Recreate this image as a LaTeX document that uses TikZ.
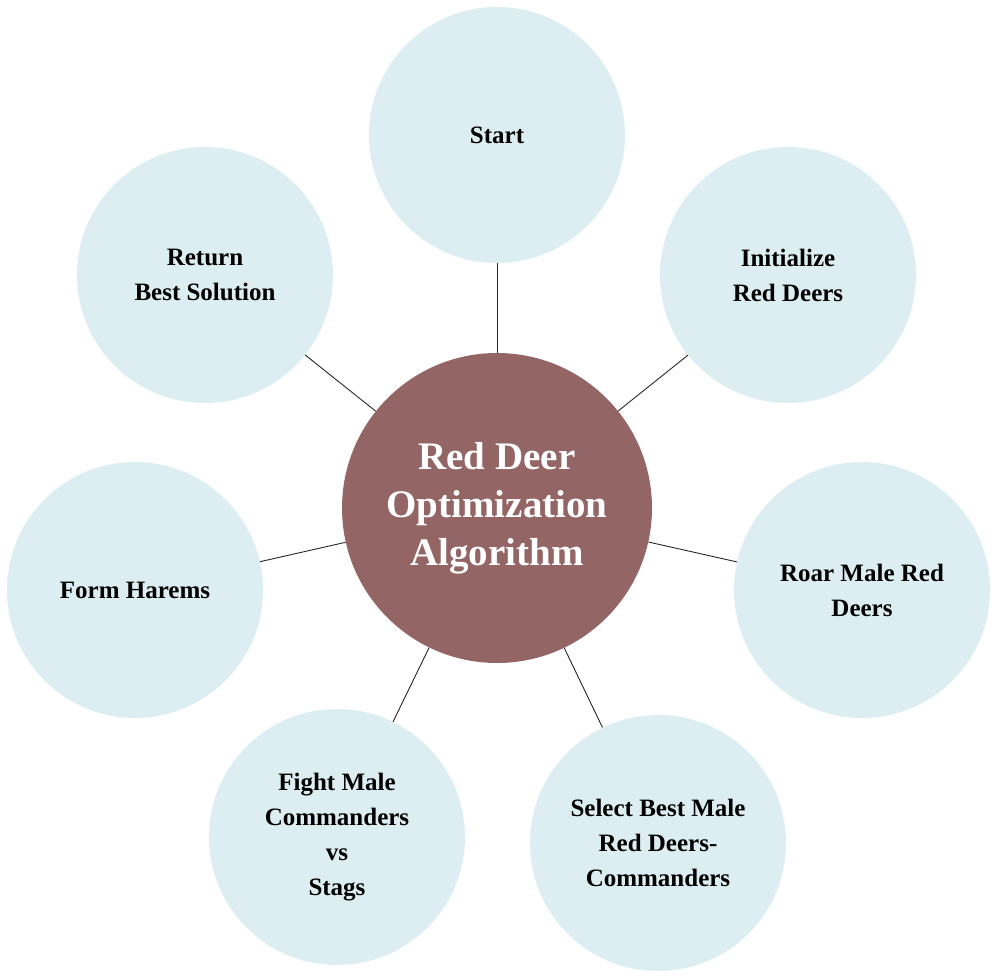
\documentclass[tikz,border=0pt]{standalone}
\usepackage{fontspec}
\setmainfont{Liberation Serif}
\definecolor{outerc}{HTML}{DCEEF1}
\definecolor{innerc}{HTML}{946565}
\begin{document}
\begin{tikzpicture}[x=1pt,y=-1pt,
  outer/.style={circle,fill=outerc,minimum size=256pt,inner sep=0pt,align=center,font=\fontsize{25}{35}\selectfont\bfseries},
  inner/.style={circle,fill=innerc,minimum size=310pt,inner sep=0pt,align=center,text=white,font=\fontsize{39}{48}\selectfont\bfseries},
  link/.style={draw=black!85,line width=0.9pt}]
\useasboundingbox (0,0) rectangle (995,976);
\node[inner] (c) at (497,508) {Red Deer\\Optimization\\Algorithm};
\node[outer] (s) at (497,135) {Start};
\node[outer] (i) at (788,275) {Initialize\\Red Deers};
\node[outer] (r) at (862,590) {Roar Male Red\\Deers};
\node[outer] (sel) at (658,843) {Select Best Male\\Red Deers-\\Commanders};
\node[outer] (f) at (337,837) {Fight Male\\Commanders\\vs\\Stags};
\node[outer] (h) at (135,590) {Form Harems};
\node[outer] (ret) at (205,275) {Return\\Best Solution};
\foreach \n in {s,i,r,sel,f,h,ret} \draw[link] (c) -- (\n);
\end{tikzpicture}
\end{document}
